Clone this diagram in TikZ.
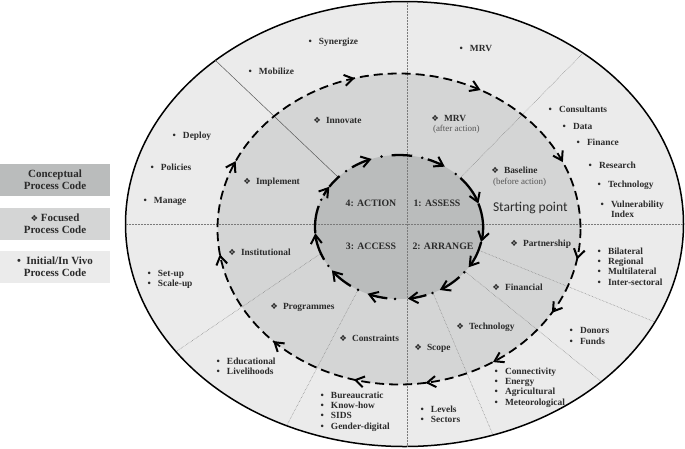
\documentclass[tikz,border=0pt]{standalone}
\usepackage{fontspec}
\setmainfont{Liberation Serif}
\newfontfamily\dejavu{DejaVu Sans}
\newfontfamily\carlito{Carlito}
\usetikzlibrary{arrows.meta,decorations.markings,calc}
\definecolor{outerfill}{HTML}{EBEBEB}
\definecolor{midfill}{HTML}{D4D5D5}
\definecolor{innerfill}{HTML}{BABCBC}
\definecolor{txt}{HTML}{2B2B2B}
\definecolor{subtxt}{HTML}{555555}
\definecolor{divline}{HTML}{7A7A7A}
\newcommand{\dia}{{\dejavu\fontsize{8.5}{9}\selectfont ❖}}
\newcommand{\bl}{\llap{\textbullet\hspace{7pt}}}
\newcommand{\dl}{\llap{\dia\hspace{5pt}}}
\tikzset{
  every node/.style={inner sep=0pt, outer sep=0pt, text=txt},
  code/.style={font=\fontsize{9.4}{10.4}\selectfont\bfseries, anchor=west, align=left},
  sub/.style={font=\fontsize{9}{10}\selectfont, text=subtxt, anchor=west},
  phase/.style={font=\fontsize{9.8}{11}\selectfont\bfseries},
  legendtext/.style={font=\fontsize{11}{12}\selectfont\bfseries, align=center},
  divider/.style={divline, line width=0.5pt, densely dotted},
  solidline/.style={black!65, line width=0.5pt},
  barb/.tip={Straight Barb[length=8.5pt,width=11pt,line width=2pt]},
  inring/.style={line width=2.3pt, line cap=butt},
  midarrows/.style={postaction={decorate, solid, decoration={markings,
    mark=at position 0.029 with {\arrow{barb}},
    mark=at position 0.085 with {\arrow{barb}},
    mark=at position 0.158 with {\arrow{barb}},
    mark=at position 0.225 with {\arrow{barb}},
    mark=at position 0.293 with {\arrow{barb}},
    mark=at position 0.378 with {\arrow{barb}},
    mark=at position 0.476 with {\arrow{barb}},
    mark=at position 0.567 with {\arrow{barb}},
    mark=at position 0.708 with {\arrow{barb}},
    mark=at position 0.829 with {\arrow{barb}},
    mark=at position 0.934 with {\arrow{barb}}}}},
}
% inner ring pieces: plain arc and arc ending in an arrowhead
\newcommand{\iseg}[2]{\draw[inring] (ci) ++(#1:84 and 72) arc[start angle=#1, end angle=#2, x radius=84, y radius=72];}
\newcommand{\iarr}[2]{\draw[inring,-{barb}] (ci) ++(#1:84 and 72) arc[start angle=#1, end angle=#2, x radius=84, y radius=72];}
\newcommand{\idot}[1]{\fill (ci) ++(#1:84 and 72) circle[radius=1.4pt];}
\begin{document}
\begin{tikzpicture}[x=1pt,y=-1pt]
\useasboundingbox (0,0) rectangle (685,448);
% legend
\fill[innerfill] (0,164) rectangle (110,196);
\fill[midfill] (0,208) rectangle (110,240);
\fill[outerfill] (0,251) rectangle (110,283);
\node[legendtext] (lg1) at (55,180) {Conceptual\\Process Code};
\node[legendtext] (lg2) at (55,224) {\dia\ Focused\\Process Code};
\node[legendtext] (lg3) at (55,267) {\textbullet\ \ Initial/In Vivo\\Process Code};
% regions
\coordinate (co) at (404.5,224);
\coordinate (cm) at (399,229);
\coordinate (ci) at (399,227);
\filldraw[fill=outerfill, draw=black, line width=1.5pt] (co) ellipse[x radius=279, y radius=222.5];
\fill[midfill] (cm) ellipse[x radius=181.5, y radius=155.5];
% radial dividers
\coordinate (ul1) at (338,177); \coordinate (ul2) at (215,60);
\coordinate (ur1) at (463,175); \coordinate (ur2) at (583,53);
\coordinate (ra1) at (483,252); \coordinate (ra2) at (655,322);
\coordinate (rb1) at (467,273); \coordinate (rb2) at (602,382);
\coordinate (rc1) at (433,293); \coordinate (rc2) at (493,435);
\coordinate (la1) at (358,290); \coordinate (la2) at (287,425);
\coordinate (lb1) at (320,254); \coordinate (lb2) at (177,351);
\draw[solidline] ($(ul1)!-0.1!(ul2)$) -- (ul2);
\foreach \p in {ur,ra,rb,rc,la,lb}{
  \draw[divider] ($(\p1)!-0.1!(\p2)$) -- (\p2);
}
\fill[innerfill] (ci) ellipse[x radius=84, y radius=72];
\draw[divider] (407,1.5) -- (407,446.5);
\draw[divider] (125.5,224) -- (683.5,224);
% middle cycle
\draw[line width=1.8pt, dash pattern=on 9pt off 5pt, midarrows]
  ($(cm)+(181.5,0)$) arc[start angle=0, end angle=360, x radius=181.5, y radius=155.5];
% inner cycle
\idot{258}
\iseg{265}{279}
\idot{286}
\iarr{290}{303}
\idot{312.5}
\iarr{317}{341}
\iarr{341}{372}
\iarr{372}{394}
\idot{399}
\iarr{44}{61}
\idot{66.5}
\iarr{71}{84}
\idot{92.7}
\iarr{98}{112}
\idot{119.2}
\iarr{125}{143}
\idot{147.3}
\iarr{153}{175}
\iseg{175}{197}
\idot{202.2}
\iarr{206}{214}
\iseg{214}{225}
\idot{231}
\iarr{236}{251}
% phases
\node[phase] (p1) at (437,203) {1: ASSESS};
\node[phase] (p4) at (371,203) {4: ACTION};
\node[phase] (p3) at (371,246) {3: ACCESS};
\node[phase] (p2) at (443,246) {2: ARRANGE};
% focused codes
\node[code] (f1) at (326,120) {\dl Innovate};
\node[code] (f2) at (256,182) {\dl Implement};
\node[code] (f3) at (241,252) {\dl Institutional};
\node[code] (f4) at (283,307) {\dl Programmes};
\node[code] (f5) at (352,338) {\dl Constraints};
\node[code] (f6) at (427,348) {\dl Scope};
\node[code] (f7) at (469,327) {\dl Technology};
\node[code] (f8) at (505,287) {\dl Financial};
\node[code] (f9) at (523,244) {\dl Partnership};
\node[code] (f10) at (504,170) {\dl Baseline};
\node[sub] (f10s) at (493,182) {(before action)};
\node[code] (f11) at (444,118) {\dl MRV};
\node[sub] (f11s) at (433,129) {(after action)};
\node[anchor=west, font=\carlito\fontsize{13.5}{15}\selectfont, text=txt] (sp) at (493,208) {Starting point};
% initial codes
\node[code] (i1) at (319,42) {\bl Synergize};
\node[code] (i2) at (259,71) {\bl Mobilize};
\node[code] (i3) at (183,136) {\bl Deploy};
\node[code] (i4) at (161,167) {\bl Policies};
\node[code] (i5) at (154,201) {\bl Manage};
\node[code] (i6) at (158,279.5) {\bl Set-up\\\bl Scale-up};
\node[code] (i7) at (227,366) {\bl Educational\\\bl Livelihoods};
\node[code] (i8) at (331,411.5) {\bl Bureaucratic\\\bl Know-how\\\bl SIDS\\\bl Gender-digital};
\node[code] (i9) at (431,414) {\bl Levels\\\bl Sectors};
\node[code] (i10) at (505,387.5) {\bl Connectivity\\\bl Energy\\\bl Agricultural\\\bl Meteorological};
\node[code] (i11) at (580,336) {\bl Donors\\\bl Funds};
\node[code] (i12) at (608,266.5) {\bl Bilateral\\\bl Regional\\\bl Multilateral\\\bl Inter-sectoral};
\node[code] (i13) at (611,209.5) {\bl Vulnerability\\Index};
\node[code] (i14) at (608,185) {\bl Technology};
\node[code] (i15) at (599,165) {\bl Research};
\node[code] (i16) at (587,142) {\bl Finance};
\node[code] (i17) at (573,126) {\bl Data};
\node[code] (i18) at (559,109) {\bl Consultants};
\node[code] (i19) at (470,48) {\bl MRV};
\end{tikzpicture}
\end{document}
